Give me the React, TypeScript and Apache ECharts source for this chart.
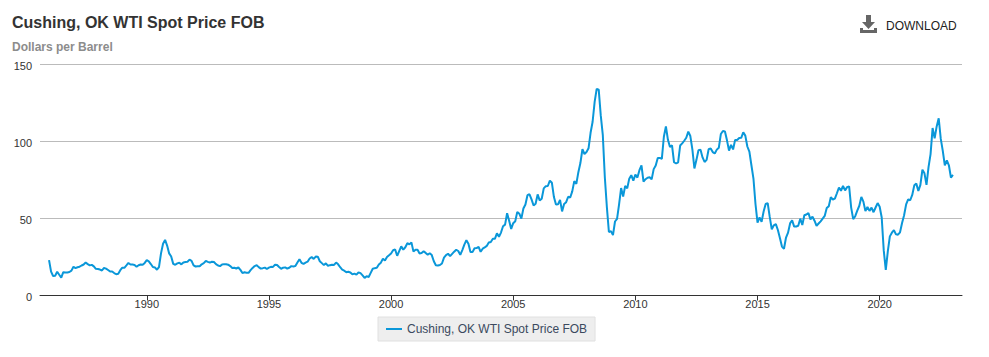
import React, { useEffect, useRef } from "react";
import * as echarts from "echarts";

const seriesName = "Cushing, OK WTI Spot Price FOB";
const unitLabel = "Dollars per Barrel";
const firstYear = 1986;
const xTickYears = [1990, 1995, 2000, 2005, 2010, 2015, 2020];
const yTicks = [0, 50, 100, 150];

const prices = [
  22.93, 15.46, 12.61, 12.84, 15.38, 13.43, 11.59, 15.1, 14.87, 14.9, 15.22, 16.11,
  18.65, 17.75, 18.3, 18.68, 19.44, 20.07, 21.34, 20.31, 19.53, 19.86, 18.85, 17.28,
  17.13, 16.8, 16.2, 17.86, 17.42, 16.53, 15.5, 15.52, 14.54, 13.77, 14.14, 16.38,
  18.02, 17.94, 19.48, 21.07, 20.12, 20.05, 19.78, 18.58, 19.59, 20.1, 19.86, 21.1,
  22.86, 22.11, 20.39, 18.43, 18.2, 16.7, 18.45, 27.31, 33.51, 36.04, 32.33, 27.28,
  25.23, 20.48, 19.9, 20.83, 21.23, 20.19, 21.4, 21.69, 21.89, 23.23, 22.46, 19.5,
  18.79, 19.01, 18.92, 20.23, 20.98, 22.39, 21.78, 21.34, 21.88, 21.69, 20.34, 19.41,
  19.03, 20.09, 20.32, 20.25, 19.95, 19.09, 17.89, 18.01, 17.5, 18.15, 16.61, 14.52,
  15.03, 14.78, 14.68, 16.42, 17.89, 19.06, 19.66, 18.38, 17.45, 17.72, 18.07, 17.16,
  18.04, 18.57, 18.54, 19.9, 19.74, 18.45, 17.33, 18.02, 18.23, 17.43, 17.99, 19.03,
  18.86, 19.09, 21.33, 23.5, 21.17, 20.42, 21.3, 21.9, 23.97, 24.88, 23.71, 25.23,
  25.13, 22.18, 20.97, 19.7, 20.82, 19.26, 19.66, 19.95, 19.8, 21.33, 20.19, 18.33,
  16.72, 16.06, 15.12, 15.35, 14.91, 13.72, 14.17, 13.47, 15.03, 14.46, 13.0, 11.35,
  12.52, 12.01, 14.68, 17.31, 17.72, 17.92, 20.1, 21.28, 23.8, 22.69, 25.0, 26.1,
  27.26, 29.37, 29.84, 25.72, 28.79, 31.82, 29.7, 31.26, 33.88, 33.11, 34.42, 28.44,
  29.59, 29.61, 27.25, 27.49, 28.63, 27.6, 26.43, 27.37, 26.2, 22.17, 19.64, 19.39,
  19.72, 20.72, 24.53, 26.18, 27.04, 25.52, 26.97, 28.39, 29.66, 28.84, 26.35, 29.46,
  32.95, 35.83, 33.51, 28.17, 28.11, 30.66, 30.76, 31.57, 28.31, 30.34, 31.11, 32.13,
  34.31, 34.69, 36.74, 36.75, 40.28, 38.03, 40.78, 44.9, 45.94, 53.28, 48.47, 43.15,
  46.84, 48.15, 54.19, 52.98, 49.83, 56.35, 59.0, 64.99, 65.59, 62.26, 58.32, 59.41,
  65.49, 61.63, 62.69, 69.44, 70.84, 70.95, 74.41, 73.04, 63.8, 58.89, 59.08, 61.96,
  54.51, 59.28, 60.44, 63.98, 63.46, 67.49, 74.12, 72.36, 79.92, 85.8, 94.77, 91.69,
  92.97, 95.39, 105.45, 112.58, 125.4, 133.88, 133.37, 116.67, 104.11, 76.61, 57.31, 41.12,
  41.71, 39.09, 47.94, 49.65, 59.03, 69.64, 64.15, 71.05, 69.41, 75.72, 77.99, 74.47,
  78.33, 76.39, 81.2, 84.29, 73.74, 75.34, 76.32, 76.6, 75.24, 81.89, 84.25, 89.15,
  89.17, 88.58, 102.86, 109.53, 100.9, 96.26, 97.3, 86.33, 85.52, 86.32, 97.16, 98.56,
  100.27, 102.2, 106.16, 103.32, 94.66, 82.3, 87.9, 94.13, 94.51, 89.49, 86.53, 87.86,
  94.76, 95.31, 92.94, 92.02, 94.51, 95.77, 104.67, 106.57, 106.29, 100.54, 93.86, 97.63,
  94.62, 100.82, 100.8, 102.07, 102.18, 105.79, 103.59, 96.54, 93.21, 84.4, 75.79, 59.29,
  47.22, 50.58, 47.82, 54.45, 59.27, 59.82, 50.9, 42.87, 45.48, 46.22, 42.44, 37.19,
  31.68, 30.32, 37.55, 40.75, 46.71, 48.76, 44.65, 44.72, 45.18, 49.78, 45.66, 51.97,
  52.5, 53.47, 49.33, 51.06, 48.48, 45.18, 46.63, 48.04, 49.82, 51.58, 56.64, 57.88,
  63.7, 62.23, 62.73, 66.25, 69.98, 67.87, 70.98, 68.06, 70.23, 70.75, 56.96, 49.52,
  51.38, 54.95, 58.15, 63.86, 60.83, 54.66, 57.35, 54.81, 56.95, 53.96, 57.03, 59.88,
  57.52, 50.54, 29.21, 16.55, 28.56, 38.31, 40.71, 42.34, 39.63, 39.4, 40.94, 47.02,
  52.0, 59.04, 62.33, 61.72, 65.17, 71.38, 72.49, 67.73, 71.65, 81.48, 79.15, 71.71,
  83.22, 91.64, 108.5, 101.78, 109.55, 114.84, 101.62, 93.67, 84.26, 87.55, 84.37, 76.44,
  78.12,
];

const FONT = '"Liberation Sans", Arial, sans-serif';
const ICON =
  "M6 0h5v7h4l-6.5 7L2 7h4zM0 13h3v2h11v-2h3v5H0z";

echarts.graphic.registerShape("downloadIcon", echarts.graphic.extendPath(ICON as any, {}) as any);

export default function App() {
  const ref = useRef<HTMLDivElement>(null);

  useEffect(() => {
    const chart = echarts.init(ref.current!, null, { renderer: "svg" });
    chart.setOption({
      animation: false,
      backgroundColor: "#fff",
      textStyle: { fontFamily: FONT },
      title: [
        {
          text: seriesName,
          left: 12,
          top: 14,
          padding: 0,
          textStyle: { fontFamily: FONT, fontSize: 16, fontWeight: "bold", color: "#333" },
        },
        {
          text: unitLabel,
          left: 12,
          top: 41,
          padding: 0,
          textStyle: { fontFamily: FONT, fontSize: 12, fontWeight: "bold", color: "#8c8c8c" },
        },
      ],
      graphic: [
        {
          type: "downloadIcon",
          x: 860,
          y: 15,
          style: { fill: "#666" },
        },
        {
          type: "text",
          x: 886,
          y: 20,
          style: { text: "DOWNLOAD", font: `12px ${FONT}`, fill: "#222" },
        },
      ],
      grid: { left: 40, right: 27, top: 64, height: 231.5, containLabel: false },
      legend: {
        show: true,
        left: 378,
        top: 317,
        padding: [6, 8, 6, 8],
        backgroundColor: "#eeeeee",
        borderColor: "#e0e0e0",
        borderWidth: 1,
        borderRadius: 0,
        itemWidth: 16,
        itemHeight: 2,
        itemGap: 4,
        textStyle: { fontFamily: FONT, fontSize: 12, color: "#3b4a5e", padding: [0, 0, 0, 0], lineHeight: 12 },
        data: [{ name: seriesName, icon: "rect" }],
      },
      xAxis: {
        type: "value",
        min: 1985.63,
        max: 2023.37,
        splitLine: { show: false },
        axisLine: { show: true, lineStyle: { color: "#333", width: 1 } },
        axisTick: { show: true, length: 5, customValues: xTickYears, lineStyle: { color: "#333" } },
        axisLabel: {
          customValues: xTickYears,
          formatter: (v: number) => String(v),
          fontFamily: FONT,
          fontSize: 11,
          color: "#333",
          margin: 3,
        },
      },
      yAxis: {
        type: "value",
        min: 0,
        max: 150,
        interval: 50,
        axisLine: { show: false },
        axisTick: { show: false },
        splitLine: { show: true, lineStyle: { color: "#bbbbbb", width: 1 } },
        axisLabel: {
          margin: 8,
          formatter: (v: number) => (yTicks.includes(v) ? `{t|${v}}` : ""),
          rich: {
            t: { fontFamily: FONT, fontSize: 11, color: "#333", padding: [3, 0, 0, 0] },
          },
        },
      },
      series: [
        {
          name: seriesName,
          type: "line",
          showSymbol: false,
          symbol: "none",
          lineStyle: { color: "#0a97d9", width: 2 },
          itemStyle: { color: "#0a97d9" },
          data: prices.map((p, i) => [firstYear + i / 12, p]),
        },
      ],
    });
    return () => chart.dispose();
  }, []);

  return (
    <div
      ref={ref}
      style={{ position: "absolute", left: 0, top: 0, width: 989, height: 357 }}
    />
  );
}
